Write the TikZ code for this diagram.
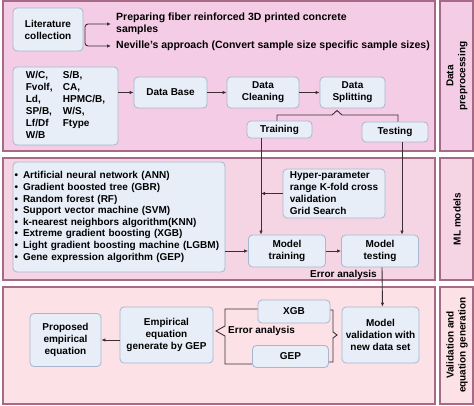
\documentclass[tikz,border=0pt]{standalone}
\usepackage{fontspec}
\setmainfont{Liberation Sans}
\usepackage{xcolor}
\usepackage{tikz}
\usetikzlibrary{arrows.meta,positioning}
\definecolor{panelA}{HTML}{F4CCE6}
\definecolor{panelB}{HTML}{F5D5E3}
\definecolor{panelC}{HTML}{FCE1E7}
\definecolor{panelline}{HTML}{A66A86}
\definecolor{boxfill}{HTML}{E8EEF8}
\definecolor{boxline}{HTML}{A9B6CF}
\definecolor{conncol}{HTML}{3B2F36}
\tikzset{
  panel/.style={draw=panelline, line width=1.3pt},
  box/.style={draw=boxline, fill=boxfill, rounded corners=4pt, line width=0.8pt,
    align=center, inner sep=2pt, font=\bfseries\fontsize{10}{12}\selectfont},
  lbl/.style={inner sep=1pt, font=\bfseries\fontsize{10}{12}\selectfont},
  conn/.style={draw=conncol, line width=0.9pt},
  arr/.style={conn, -{Latex[length=4pt,width=3.5pt]}},
}
\begin{document}
\begin{tikzpicture}[x=1pt,y=-1pt]
\useasboundingbox (0,0) rectangle (474,406);
% panels
\draw[panel, fill=panelA] (3,1) rectangle (435,151);
\draw[panel, fill=panelA] (440,1) rectangle (473,151);
\draw[panel, fill=panelB] (3,158) rectangle (435,280);
\draw[panel, fill=panelB] (440,158) rectangle (473,280);
\draw[panel, fill=panelC] (3,287) rectangle (435,404);
\draw[panel, fill=panelC] (440,287) rectangle (473,404);
\node[lbl, rotate=90, align=center] (side1) at (457,76) {Data\\preprocessing};
\node[lbl, rotate=90] (side2) at (457,219) {ML models};
\node[lbl, rotate=90, align=center] (side3) at (457,345) {Validation and\\equation generation};

% data preprocessing
\node[box, minimum width=70pt, minimum height=43pt] (lit) at (48,29.5) {Literature\\collection};
\node[lbl, anchor=west, align=left, inner sep=5pt, font=\bfseries\fontsize{10.5}{12}\selectfont] (prep) at (111,24) {Preparing fiber reinforced 3D printed concrete\\samples};
\node[lbl, anchor=west, inner sep=5pt, font=\bfseries\fontsize{10.5}{12}\selectfont] (nev) at (111,46) {Neville's approach (Convert sample size specific sample sizes)};
\coordinate (litb) at (85,35);
\draw[arr, rounded corners=3pt] (litb) |- (prep.west);
\draw[arr, rounded corners=3pt] (litb) |- (nev.west);

\node[box, minimum width=105pt, minimum height=78pt] (vars) at (65.5,106) {%
  \begin{tabular}{@{}p{37pt}@{}l@{}}
  W/C, & S/B,\\ Fvolf, & CA,\\ Ld, & HPMC/B,\\ SP/B, & W/S,\\ Lf/Df & Ftype\\ W/B &
  \end{tabular}};
\node[box, minimum width=73pt, minimum height=31pt] (dbase) at (170.5,92.5) {Data Base};
\node[box, minimum width=72pt, minimum height=31pt] (clean) at (263,92.5) {Data\\Cleaning};
\node[box, minimum width=65pt, minimum height=31pt] (split) at (352.5,92.5) {Data\\Splitting};
\node[box, minimum width=65pt, minimum height=17pt] (train) at (279.5,129.5) {Training};
\node[box, minimum width=66pt, minimum height=20pt] (test) at (395,132) {Testing};
\draw[arr] (vars.east |- dbase.west) -- (dbase.west);
\draw[arr] (dbase) -- (clean);
\draw[arr] (clean) -- (split);
\coordinate (splitc) at (337,110.5);
\draw[conn] ([xshift=-2.5pt]train.north) |- (332,115) -- (splitc) -- (342,115) -| ([xshift=3pt]test.north);

% ML models
\node[box, text width=209pt, minimum height=110pt, inner xsep=1.5pt, align=left,
  font=\bfseries\fontsize{10}{11.6}\selectfont] (list) at (119,217) {%
  \textbullet\hspace{5pt}Artificial neural network (ANN)\\
  \textbullet\hspace{5pt}Gradient boosted tree (GBR)\\
  \textbullet\hspace{5pt}Random forest (RF)\\
  \textbullet\hspace{5pt}Support vector machine (SVM)\\
  \textbullet\hspace{5pt}k-nearest neighbors algorithm(KNN)\\
  \textbullet\hspace{5pt}Extreme gradient boosting (XGB)\\
  \textbullet\hspace{5pt}Light gradient boosting machine (LGBM)\\
  \textbullet\hspace{5pt}Gene expression algorithm (GEP)};
\node[box, minimum width=102pt, minimum height=49pt, align=left, inner xsep=5pt] (hyper) at (334,193.5) {Hyper-parameter\\range K-fold cross\\validation\\Grid Search};
\node[box, minimum width=77pt, minimum height=32pt] (mtrain) at (287,251) {Model\\training};
\node[box, minimum width=77pt, minimum height=32pt] (mtest) at (380,251) {Model\\testing};
\coordinate (trn) at ([xshift=-18.5pt]train.south);
\coordinate (tst) at ([xshift=7pt]test.south);
\draw[arr] (trn) -- (trn |- mtrain.north);
\draw[arr] (tst) -- (tst |- mtest.north);
\draw[arr] (hyper.west) -- (hyper.west -| trn);
\draw[arr] (list.east |- mtrain.west) -- (mtrain.west);
\draw[arr] (mtrain) -- (mtest);
\node[lbl, anchor=east] (err1) at (378,275) {Error analysis};

% validation and equation generation
\node[box, minimum width=71pt, minimum height=53pt] (prop) at (65.5,340) {Proposed\\empirical\\equation};
\node[box, minimum width=93pt, minimum height=56pt] (emp) at (166.5,335) {Empirical\\equation\\generate by GEP};
\node[box, minimum width=72pt, minimum height=23pt] (xgb) at (294,311.5) {XGB};
\node[box, minimum width=76pt, minimum height=22pt] (gep) at (290.5,356.5) {GEP};
\node[box, minimum width=77pt, minimum height=56pt] (mval) at (380.5,335) {Model\\validation with\\new data set};
\node[lbl, anchor=west] (err2) at (227,331) {Error analysis};
\draw[arr] ([xshift=2pt]mtest.south) -- ([xshift=2pt]mval.north);
\draw[arr] (emp.west |- prop.east) -- (prop.east);
\draw[conn] (xgb.west |- 0,309) -- (225,309) -- (225,326) -- (216,331) -- (225,336) -- (225,364) -- (gep.west |- 0,364);
\draw[conn] (xgb.east |- 0,310) -- (333,310) -- (333,332) -- (337,335) -- (333,338) -- (333,362) -- (gep.east |- 0,362);
\end{tikzpicture}
\end{document}
